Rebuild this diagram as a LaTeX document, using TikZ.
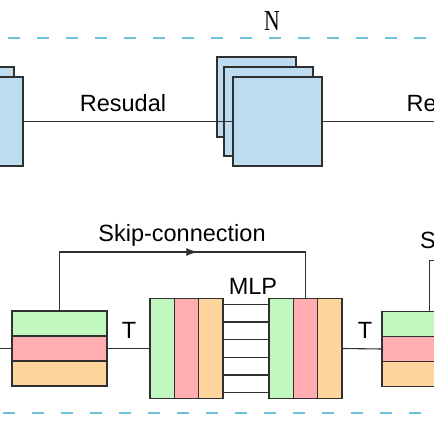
\documentclass[tikz,border=0pt]{standalone}
\usepackage{fontspec}
\setmainfont{Liberation Sans}
\newfontfamily\serifN{Liberation Serif}
\usepackage{tikz}
\usetikzlibrary{arrows.meta}
\usetikzlibrary{decorations.markings}
\usetikzlibrary{positioning}
\definecolor{resblue}{RGB}{190,220,240}
\definecolor{bandgreen}{RGB}{195,247,192}
\definecolor{bandpink}{RGB}{255,173,176}
\definecolor{bandorange}{RGB}{255,213,158}
\definecolor{sepblue}{RGB}{110,192,216}
\definecolor{linegray}{RGB}{48,48,48}
\def\BoxSize{89pt}
\def\BandW{95pt}
\def\BandH{25pt}
\def\ColW{24.33pt}
\def\ColH{100pt}

\begin{document}
\begin{tikzpicture}[x=1pt,y=-1pt,font=\fontsize{23.5}{27}\selectfont,
	resbox/.style={draw=linegray,line width=1.1pt,fill=resblue,inner sep=0pt,outer sep=0pt,minimum width=\BoxSize,minimum height=\BoxSize},
	band/.style={draw=linegray,line width=1.1pt,fill=#1,inner sep=0pt,outer sep=0pt,minimum width=\BandW,minimum height=\BandH},
	col/.style={draw=linegray,line width=1.1pt,fill=#1,inner sep=0pt,outer sep=0pt,minimum width=\ColW,minimum height=\ColH},
	wire/.style={draw,color=linegray,line width=1.1pt},
	sep/.style={draw=sepblue,line width=2pt,dash pattern=on 12pt off 17pt}]
	\clip (0,0) rectangle (434,434);
	% 
	\coordinate (sepTL) at (8,38);
	\coordinate (sepTR) at (440,38);
	\coordinate (sepBL) at (3,413);
	\coordinate (sepBR) at (440,413);
	\draw[sep] (sepTL) -- (sepTR);
	\draw[sep] (sepBL) -- (sepBR);
	\node[anchor=base,font=\serifN\fontsize{29}{31}\selectfont] (nLbl) at (272,30) {\scalebox{0.75}[1]{N}};
	% 
	\node[resbox,minimum width=79pt,minimum height=80pt] (l1) at (-42.5,97) {};
	\node[resbox] (l2) at (-30.5,111.5) {};
	\node[resbox,minimum width=79pt,minimum height=80pt] (m1) at (256.5,97) {};
	\node[resbox] (m2) at (268.5,111.5) {};
	\coordinate (resEnd) at (440,121.5);
	\node[resbox] (l3) at (-21.5,121.5) {};
	\node[resbox] (m3) at (277.5,121.5) {};
	\draw[wire] (l3.east) -- (m3.west);
	\draw[wire] (m3.east) -- (resEnd);
	\node[anchor=base] (res1) at (123,111) {Resudal};
	\node[anchor=base west] (res2) at (403,111) {Resudal};
	% 
	\node[band=bandgreen] (lbg) at (59.5,323.5) {};
	\node[band=bandpink,below=0pt of lbg] (lbr) {};
	\node[band=bandorange,below=0pt of lbr] (lbo) {};
	% 
	\node[col=bandgreen] (mlg) at (162.2,348.5) {};
	\node[col=bandpink,right=0pt of mlg] (mlr) {};
	\node[col=bandorange,right=0pt of mlr] (mlo) {};
	\node[col=bandgreen] (mrg) at (281.2,348.5) {};
	\node[col=bandpink,right=0pt of mrg] (mrr) {};
	\node[col=bandorange,right=0pt of mrr] (mro) {};
	% 
	\node[band=bandgreen] (rbg) at (429.5,324) {};
	\node[band=bandpink,below=0pt of rbg] (rbr) {};
	\node[band=bandorange,below=0pt of rbr] (rbo) {};
	% 
	\coordinate (inL) at (-5,348.5);
	\draw[wire] (inL) -- (lbr.west);
	\draw[wire] (lbr.east) -- (mlg.west);
	\draw[wire] (mro.east) -- (rbr.west);
	\foreach \y in {304.3,322,339.7,357.3,375,392.7}
		\draw[wire] (mlo.east |- 0,\y) -- (mrg.west |- 0,\y);
	% 
	\coordinate (skipUp) at (0,252);
	\draw[wire,postaction={decorate},decoration={markings,mark=at position 0.56 with {\arrow{Latex[length=11pt,width=8pt]}}}]
		(lbg.north) |- (skipUp -| mrr.north) -- (mrr.north);
	\coordinate (rSkip) at (440,260.7);
	\draw[wire] (rbg.north) |- (rSkip);
	% 
	\node[anchor=base] (skip1) at (182,241.7) {Skip-connection};
	\node[anchor=base west] (skip2) at (416.5,248) {Skip-connection};
	\node[anchor=base] (mlpLbl) at (253,294) {MLP};
	\node[anchor=base] (t1) at (129,338) {T};
	\node[anchor=base] (t2) at (365,338) {T};
\end{tikzpicture}
\end{document}
